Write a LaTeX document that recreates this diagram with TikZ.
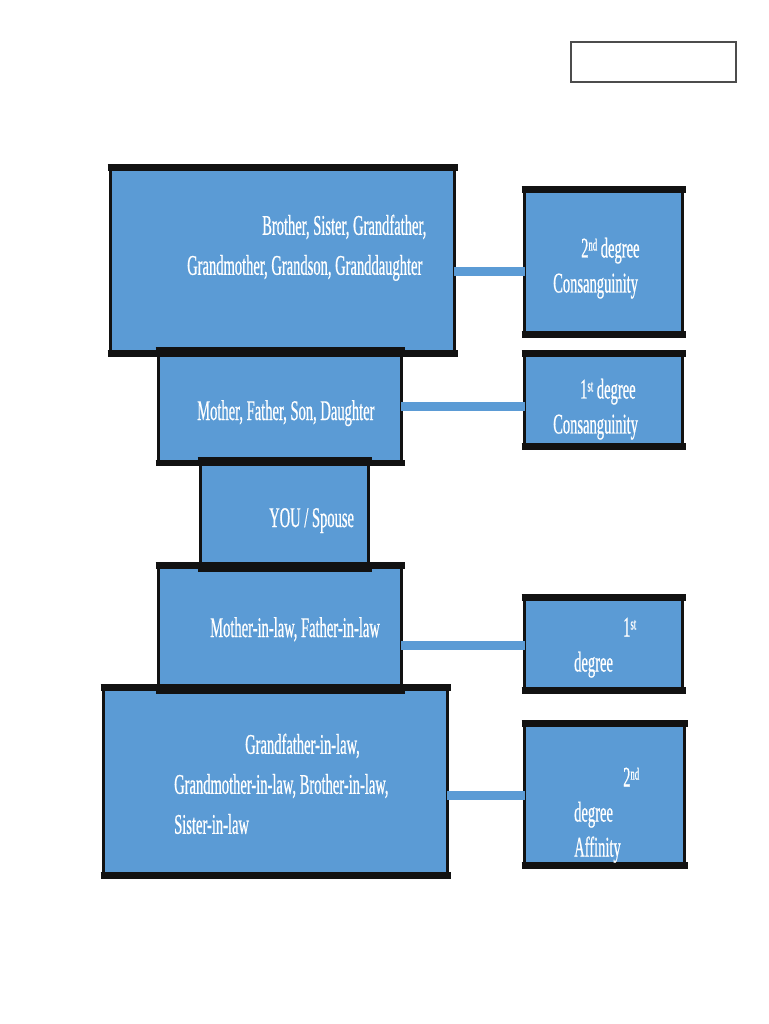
\documentclass[tikz,border=0pt]{standalone}
\usepackage{fontspec}
\setmainfont{Liberation Serif}[FakeStretch=0.51, FakeBold=0.6]
\definecolor{kinblue}{RGB}{91,155,213}
\newcommand{\degsup}[1]{\raisebox{7pt}{\fontsize{17}{17}\selectfont #1}}
\begin{document}
\begin{tikzpicture}[x=1pt, y=-1pt,
    kin/.style={rectangle, draw=black!93, fill=kinblue, line width=3pt, inner sep=0},
    rim/.style={draw=black!93, line width=6.5pt, shorten <=-1.5pt, shorten >=-1.5pt},
    link/.style={draw=kinblue, line width=9pt, shorten <=-2pt, shorten >=-2pt},
    famtext/.style={text=white, inner sep=0, align=left, font=\fontsize{28.5}{40}\selectfont},
    degtext/.style={famtext, font=\fontsize{28.5}{35}\selectfont}]
\useasboundingbox (0,0) rectangle (768,1024);

% Riquadro vuoto
\node[rectangle, draw=black!70, line width=1.2pt, minimum width=165, minimum height=40] (stamp) at (653.5,62) {};

% Blocchi
\node[kin, minimum width=344, minimum height=183] (sib) at (282.5,260.5) {};
\node[kin, minimum width=243, minimum height=109.5] (par) at (280,406.75) {};
\node[kin, minimum width=168, minimum height=105.5] (you) at (284.5,514.25) {};
\node[kin, minimum width=243, minimum height=122] (inl) at (280,628) {};
\node[kin, minimum width=344, minimum height=185] (gil) at (275.5,781.5) {};

\node[kin, minimum width=158, minimum height=142] (cons2) at (603.5,262) {};
\node[kin, minimum width=158, minimum height=90] (cons1) at (603.5,400) {};
\node[kin, minimum width=158, minimum height=90] (aff1) at (603.5,644) {};
\node[kin, minimum width=160, minimum height=139] (aff2) at (604.5,794.5) {};

% Bordi spessi
\foreach \n in {sib,par,you,inl,gil,cons2,cons1,aff1,aff2} {
    \draw[rim] (\n.north west) -- (\n.north east);
    \draw[rim] (\n.south west) -- (\n.south east);
}

% Collegamenti
\draw[link] ([yshift=-10.5pt]sib.east) -- ([yshift=-9pt]cons2.west);
\draw[link] ([yshift=0.75pt]par.east) -- ([yshift=-6pt]cons1.west);
\draw[link] ([yshift=-17pt]inl.east) -- ([yshift=-1pt]aff1.west);
\draw[link] ([yshift=-13.5pt]gil.east) -- ([yshift=-0.5pt]aff2.west);

% Testi
\node[famtext, anchor=north west] (sibtxt) at (187,214.5) {\hspace*{75pt}Brother, Sister, Grandfather,\\Grandmother, Grandson, Granddaughter};
\node[famtext, anchor=base west] (partxt) at (197,420) {Mother, Father, Son, Daughter};
\node[famtext, anchor=base west] (youtxt) at (269,527) {YOU / Spouse};
\node[famtext, anchor=base west] (inltxt) at (210,637) {Mother-in-law, Father-in-law};
\node[famtext, anchor=north west] (giltxt) at (174,733.5) {\hspace*{71pt}Grandfather-in-law,\\Grandmother-in-law, Brother-in-law,\\Sister-in-law};

\node[degtext, anchor=north west] (cons2txt) at (553,237.5) {\hspace*{28pt}2\degsup{nd} degree\\Consanguinity};
\node[degtext, anchor=north west] (cons1txt) at (553,378.5) {\hspace*{27pt}1\degsup{st} degree\\Consanguinity};
\node[degtext, anchor=north west] (aff1txt) at (574,617.5) {\hspace*{49pt}1\degsup{st}\\degree};
\node[degtext, anchor=north west] (aff2txt) at (574,767.5) {\hspace*{49pt}2\degsup{nd}\\degree\\Affinity};
\end{tikzpicture}
\end{document}
